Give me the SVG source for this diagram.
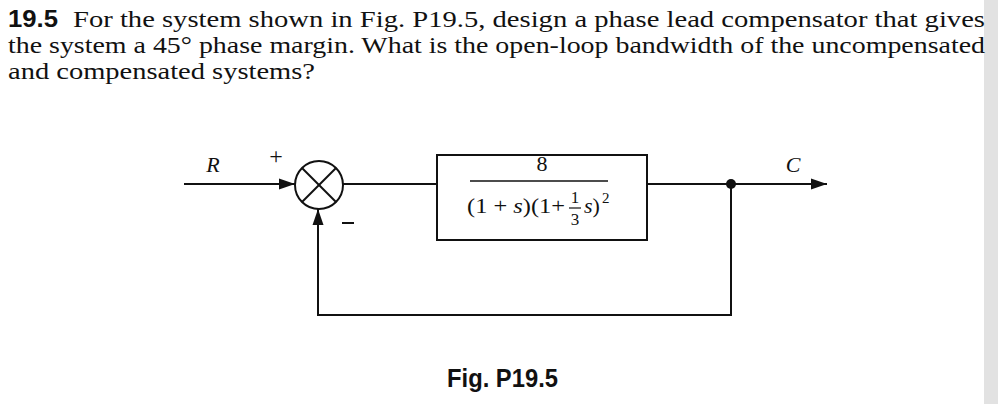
<svg xmlns="http://www.w3.org/2000/svg" width="998" height="404" viewBox="0 0 998 404">
<defs>
<marker id="arr" viewBox="0 0 16 12" refX="16" refY="6" markerWidth="16" markerHeight="12" markerUnits="userSpaceOnUse" orient="auto">
<path d="M0,0.5 L16,6 L0,11.5 z" fill="#111"/>
</marker>
<style>
.ln{stroke:#111;stroke-width:2;fill:none}
.t{font-family:"Liberation Serif",serif;fill:#111}
.q{font-family:"Liberation Serif",serif;font-size:24px;fill:#111}
.it{font-style:italic}
</style>
</defs>
<rect width="998" height="404" fill="#fff"/>
<rect x="984" y="0" width="14" height="404" fill="#e2e2e2"/>
<g id="problem">
<text x="8" y="27" font-family="Liberation Sans,sans-serif" font-weight="bold" font-size="24" fill="#111" textLength="50" lengthAdjust="spacingAndGlyphs">19.5</text>
<text class="q" x="73" y="27" textLength="912" lengthAdjust="spacingAndGlyphs">For the system shown in Fig. P19.5, design a phase lead compensator that gives</text>
<text class="q" x="8" y="53" textLength="977" lengthAdjust="spacingAndGlyphs">the system a 45° phase margin. What is the open-loop bandwidth of the uncompensated</text>
<text class="q" x="8" y="79" textLength="307" lengthAdjust="spacingAndGlyphs">and compensated systems?</text>
</g>
<g id="connectors">
<line class="ln" x1="184" y1="184" x2="295" y2="184" marker-end="url(#arr)"/>
<line class="ln" x1="343" y1="184" x2="437" y2="184"/>
<line class="ln" x1="647" y1="184" x2="827" y2="184" marker-end="url(#arr)"/>
<polyline class="ln" points="731,184 731,315 318,315 318,209" marker-end="url(#arr)"/>
</g>
<g id="sum">
<circle class="ln" cx="319" cy="185" r="24"/>
<line class="ln" x1="302" y1="168" x2="336" y2="202"/>
<line class="ln" x1="336" y1="168" x2="302" y2="202"/>
<text class="t" x="276" y="164" font-size="24" text-anchor="middle">+</text>
<line class="ln" x1="342" y1="223" x2="354" y2="223"/>
</g>
<g id="plant">
<rect class="ln" x="437" y="155" width="210" height="85"/>
<text class="t" x="542" y="171" font-size="22" text-anchor="middle">8</text>
<line class="ln" x1="470" y1="181" x2="608" y2="181" style="stroke-width:1.5"/>
<text class="t" x="467" y="213" font-size="22" textLength="98" lengthAdjust="spacingAndGlyphs">(1 + <tspan class="it">s</tspan>)(1+</text>
<text class="t" x="575" y="203" font-size="17" text-anchor="middle">1</text>
<line class="ln" x1="569" y1="208" x2="581" y2="208" style="stroke-width:1.2"/>
<text class="t" x="575" y="225" font-size="17" text-anchor="middle">3</text>
<text class="t" x="584" y="213" font-size="22"><tspan class="it">s</tspan>)</text>
<text class="t" x="602" y="203" font-size="15">2</text>
</g>
<g id="labels">
<text class="t it" x="213" y="172" font-size="22" text-anchor="middle">R</text>
<text class="t it" x="793" y="172" font-size="22" text-anchor="middle">C</text>
</g>
<circle id="pickoff" cx="731" cy="184" r="5" fill="#111"/>
<g id="caption">
<text x="447" y="387" font-family="Liberation Sans,sans-serif" font-weight="bold" font-size="26" fill="#111" textLength="111" lengthAdjust="spacingAndGlyphs">Fig. P19.5</text>
</g>
</svg>
